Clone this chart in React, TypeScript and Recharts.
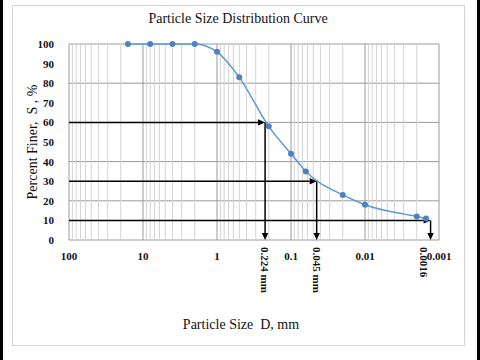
import React from "react";
import { LineChart, Line, XAxis, YAxis, CartesianGrid, ReferenceLine } from "recharts";

// sieve / hydrometer results
const sizes = [16, 8, 4, 2, 1, 0.5, 0.2, 0.1, 0.063, 0.02, 0.01, 0.002, 0.0015];
const finer = [100, 100, 100, 100, 96, 83, 58, 44, 35, 23, 18, 12, 11];

const xTicks = [100, 10, 1, 0.1, 0.01, 0.001];
const yTicks = [0, 10, 20, 30, 40, 50, 60, 70, 80, 90, 100];

// read-off arrows (percent finer -> diameter)
const readS = [60, 30, 10];
const readD = [0.224, 0.045, 0.0013];
const readLabelD = [0.224, 0.045, 0.0016];
const readLabels = ["0.224 mm", "0.045 mm", "0.0016"];

const decades = [0.001, 0.01, 0.1, 1, 10];
const minorGrid = decades.flatMap((d) => [2, 3, 4, 5, 6, 7, 8, 9].map((m) => +(d * m).toPrecision(3)));

const data = sizes.map((d, i) => ({ d, s: finer[i] }));

const FONT = "'Liberation Serif', 'Times New Roman', serif";

const Arrow = (props: any) => {
  const { x1, y1, x2, y2 } = props;
  const dx = x2 - x1;
  const dy = y2 - y1;
  const len = Math.sqrt(dx * dx + dy * dy) || 1;
  const ux = dx / len;
  const uy = dy / len;
  const hl = 7;
  const hw = 3.2;
  const bx = x2 - ux * hl;
  const by = y2 - uy * hl;
  return (
    <g>
      <line x1={x1} y1={y1} x2={bx} y2={by} stroke="#000" strokeWidth={1.5} />
      <path
        d={`M${x2},${y2} L${bx - uy * hw},${by + ux * hw} L${bx + uy * hw},${by - ux * hw} Z`}
        fill="#000"
      />
    </g>
  );
};

export default function App() {
  return (
    <div style={{ position: "fixed", left: 0, top: 0, width: 480, height: 360, background: "#000" }}>
      <div style={{ position: "absolute", left: 3, top: 0, width: 474, height: 360, background: "#fff" }} />
      <div
        style={{
          position: "absolute",
          left: 12,
          top: 5,
          width: 451,
          height: 339,
          border: "1px solid #d0d6dc",
        }}
      />
      <div style={{ position: "absolute", left: 0, top: 0 }}>
        <LineChart width={480} height={360} data={data} margin={{ top: 44, right: 41, bottom: 90, left: 0 }}>
          {minorGrid.map((v) => (
            <ReferenceLine key={"m" + v} x={v} stroke="#d4d4d4" strokeWidth={1} />
          ))}
          <CartesianGrid stroke="#9a9a9a" strokeWidth={1} />
          <XAxis
            dataKey="d"
            type="number"
            scale="log"
            domain={[0.001, 100]}
            reversed
            ticks={xTicks}
            tickFormatter={(v: number) => String(v)}
            allowDataOverflow
            axisLine={false}
            tickLine={false}
            height={30}
            tick={{ fontFamily: FONT, fontSize: 11, fontWeight: "bold", fill: "#111" }}
            tickMargin={6}
          />
          <YAxis
            type="number"
            domain={[0, 100]}
            ticks={yTicks}
            axisLine={false}
            tickLine={false}
            width={69}
            tickMargin={9}
            tick={{ fontFamily: FONT, fontSize: 11, fontWeight: "bold", fill: "#111" }}
          />
          {readS.map((s, i) => (
            <ReferenceLine
              key={"h" + i}
              segment={[
                { x: 100, y: s },
                { x: readD[i], y: s },
              ]}
              shape={Arrow}
            />
          ))}
          {readS.map((s, i) => (
            <ReferenceLine
              key={"v" + i}
              segment={[
                { x: readD[i], y: s },
                { x: readD[i], y: 0 },
              ]}
              shape={Arrow}
            />
          ))}
          {readLabelD.map((d, i) => (
            <ReferenceLine
              key={"l" + i}
              segment={[
                { x: d, y: 0 },
                { x: d, y: 0 },
              ]}
              shape={(p: any) => (
                <text
                  transform={`translate(${p.x1},${p.y1 + 7}) rotate(90)`}
                  dy="0.35em"
                  fontFamily={FONT}
                  fontSize={11}
                  fontWeight="bold"
                  fill="#111"
                >
                  {readLabels[i]}
                </text>
              )}
            />
          ))}
          <Line
            dataKey="s"
            type="monotone"
            stroke="#5b9bd5"
            strokeWidth={1.5}
            dot={{ r: 3, fill: "#4f81bd", stroke: "none" }}
            isAnimationActive={false}
          />
        </LineChart>
      </div>
      <div
        style={{
          position: "absolute",
          left: 0,
          top: 11,
          width: 476,
          textAlign: "center",
          fontFamily: FONT,
          fontSize: 14,
          color: "#111",
        }}
      >
        Particle Size Distribution Curve
      </div>
      <div
        style={{
          position: "absolute",
          left: 33,
          top: 142,
          transform: "translate(-50%, -50%) rotate(-90deg)",
          whiteSpace: "nowrap",
          fontFamily: FONT,
          fontSize: 14,
          color: "#111",
        }}
      >
        Percent Finer,&nbsp; S , %
      </div>
      <div
        style={{
          position: "absolute",
          left: 241,
          top: 325,
          transform: "translate(-50%, -50%)",
          whiteSpace: "pre",
          fontFamily: FONT,
          fontSize: 14,
          color: "#111",
        }}
      >
        {"Particle Size  D, mm"}
      </div>
    </div>
  );
}
